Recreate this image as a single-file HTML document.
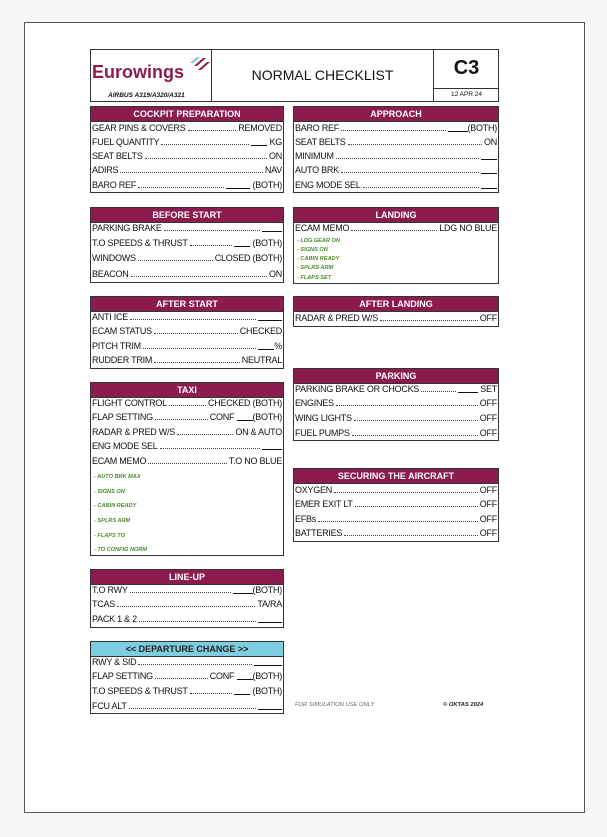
<!DOCTYPE html>
<html><head><meta charset="utf-8"><style>
html,body{margin:0;padding:0;}
body{width:607px;height:837px;background:#f7f7f7;position:relative;overflow:hidden;font-family:"Liberation Sans",sans-serif;color:#111;}
.page{position:absolute;left:24px;top:22px;width:561px;height:791px;background:#fff;border:1.5px solid #555;box-sizing:border-box;}
.a{position:absolute;}
.box{position:absolute;border:1px solid #333;box-sizing:border-box;background:#fff;}
.h{position:absolute;left:0;right:0;top:0;height:14px;background:#8c1c4e;color:#fff;font-weight:bold;font-size:9px;line-height:14px;text-align:center;border-bottom:1px solid #333;}
.h.b{background:#7fcde0;color:#222;}
.r{position:absolute;left:2px;right:2px;height:12px;line-height:12px;font-size:9px;display:flex;white-space:nowrap;letter-spacing:-0.25px;}
.r i{flex:1;border-bottom:1px dotted #444;margin:0 2px 3px 2px;}
.u{display:inline-block;border-bottom:1px solid #111;height:9px;vertical-align:top;}
.g{position:absolute;left:3px;font-size:5.6px;font-style:italic;font-weight:bold;color:#4a8a2a;}
</style></head><body>
<div class="page"></div>

<!-- header -->
<div class="box" style="left:90px;top:49px;width:409px;height:53px;"></div>
<div class="a" style="left:211px;top:49px;width:1px;height:53px;background:#333"></div>
<div class="a" style="left:433px;top:49px;width:1px;height:53px;background:#333"></div>
<div class="a" style="left:433px;top:88px;width:66px;height:1px;background:#333"></div>
<div class="a" style="left:92px;top:62px;font-size:18px;font-weight:bold;color:#8c1c4e;">Eurowings</div>
<svg class="a" style="left:184px;top:56px" width="26" height="16"><path d="M6 7 L13 1 L16 1 L9 7Z" fill="#7fc7cf"/><path d="M10 10 L19 2 L22 2 L13 10Z" fill="#8c1c4e"/><path d="M14 14 L23 6 L26 6 L17 14Z" fill="#8c1c4e"/></svg>
<div class="a" style="left:108px;top:92px;font-size:6.5px;font-weight:bold;font-style:italic;">AIRBUS A319/A320/A321</div>
<div class="a" style="left:212px;top:67px;width:221px;text-align:center;font-size:14px;">NORMAL CHECKLIST</div>
<div class="a" style="left:434px;top:57px;width:65px;text-align:center;font-size:20px;font-weight:bold;">C3</div>
<div class="a" style="left:434px;top:91px;width:65px;text-align:center;font-size:6.5px;">12 APR 24</div>

<!-- COCKPIT PREPARATION -->
<div class="box" style="left:90px;top:106px;width:194px;height:87px;"><div class="h">COCKPIT PREPARATION</div></div>
<div class="a" style="left:90px;top:0;width:194px;">
<div class="r" style="top:122px">GEAR PINS &amp; COVERS<i></i>REMOVED</div>
<div class="r" style="top:136px">FUEL QUANTITY<i></i><span class="u" style="width:16px"></span>&nbsp;KG</div>
<div class="r" style="top:150px">SEAT BELTS<i></i>ON</div>
<div class="r" style="top:164px">ADIRS<i></i>NAV</div>
<div class="r" style="top:179px">BARO REF<i></i><span class="u" style="width:24px"></span>&nbsp;(BOTH)</div>
</div>

<!-- APPROACH -->
<div class="box" style="left:293px;top:106px;width:206px;height:87px;"><div class="h">APPROACH</div></div>
<div class="a" style="left:293px;top:0;width:206px;">
<div class="r" style="top:122px">BARO REF<i></i><span class="u" style="width:20px"></span>(BOTH)</div>
<div class="r" style="top:136px">SEAT BELTS<i></i>ON</div>
<div class="r" style="top:150px">MINIMUM<i></i><span class="u" style="width:16px"></span></div>
<div class="r" style="top:164px">AUTO BRK<i></i><span class="u" style="width:16px"></span></div>
<div class="r" style="top:179px">ENG MODE SEL<i></i><span class="u" style="width:16px"></span></div>
</div>

<!-- BEFORE START -->
<div class="box" style="left:90px;top:207px;width:194px;height:76px;"><div class="h">BEFORE START</div></div>
<div class="a" style="left:90px;top:0;width:194px;">
<div class="r" style="top:222px">PARKING BRAKE<i></i><span class="u" style="width:20px"></span></div>
<div class="r" style="top:237px">T.O SPEEDS &amp; THRUST<i></i><span class="u" style="width:16px"></span>&nbsp;(BOTH)</div>
<div class="r" style="top:252px">WINDOWS<i></i>CLOSED (BOTH)</div>
<div class="r" style="top:268px">BEACON<i></i>ON</div>
</div>

<!-- LANDING -->
<div class="box" style="left:293px;top:207px;width:206px;height:77px;"><div class="h">LANDING</div>
<div class="g" style="top:30px">- LDG GEAR ON</div>
<div class="g" style="top:39px">- SIGNS ON</div>
<div class="g" style="top:48px">- CABIN READY</div>
<div class="g" style="top:57px">- SPLRS ARM</div>
<div class="g" style="top:67px">- FLAPS SET</div>
</div>
<div class="a" style="left:293px;top:0;width:206px;">
<div class="r" style="top:222px">ECAM MEMO<i></i>LDG NO BLUE</div>
</div>

<!-- AFTER START -->
<div class="box" style="left:90px;top:296px;width:194px;height:73px;"><div class="h">AFTER START</div></div>
<div class="a" style="left:90px;top:0;width:194px;">
<div class="r" style="top:311px">ANTI ICE<i></i><span class="u" style="width:24px"></span></div>
<div class="r" style="top:325px">ECAM STATUS<i></i>CHECKED</div>
<div class="r" style="top:340px">PITCH TRIM<i></i><span class="u" style="width:16px"></span>%</div>
<div class="r" style="top:354px">RUDDER TRIM<i></i>NEUTRAL</div>
</div>

<!-- AFTER LANDING -->
<div class="box" style="left:293px;top:296px;width:206px;height:31px;"><div class="h">AFTER LANDING</div></div>
<div class="a" style="left:293px;top:0;width:206px;">
<div class="r" style="top:312px">RADAR &amp; PRED W/S<i></i>OFF</div>
</div>

<!-- PARKING -->
<div class="box" style="left:293px;top:368px;width:206px;height:73px;"><div class="h">PARKING</div></div>
<div class="a" style="left:293px;top:0;width:206px;">
<div class="r" style="top:383px">PARKING BRAKE OR CHOCKS<i></i><span class="u" style="width:20px"></span>&nbsp;SET</div>
<div class="r" style="top:397px">ENGINES<i></i>OFF</div>
<div class="r" style="top:412px">WING LIGHTS<i></i>OFF</div>
<div class="r" style="top:427px">FUEL PUMPS<i></i>OFF</div>
</div>

<!-- TAXI -->
<div class="box" style="left:90px;top:382px;width:194px;height:174px;"><div class="h">TAXI</div>
<div class="g" style="top:91px">- AUTO BRK MAX</div>
<div class="g" style="top:106px">- SIGNS ON</div>
<div class="g" style="top:120px">- CABIN READY</div>
<div class="g" style="top:135px">- SPLRS ARM</div>
<div class="g" style="top:150px">- FLAPS TO</div>
<div class="g" style="top:164px">- TO CONFIG NORM</div>
</div>
<div class="a" style="left:90px;top:0;width:194px;">
<div class="r" style="top:397px">FLIGHT CONTROL<i></i>CHECKED (BOTH)</div>
<div class="r" style="top:411px">FLAP SETTING<i></i>CONF&nbsp;<span class="u" style="width:16px"></span>(BOTH)</div>
<div class="r" style="top:426px">RADAR &amp; PRED W/S<i></i>ON &amp; AUTO</div>
<div class="r" style="top:440px">ENG MODE SEL<i></i><span class="u" style="width:20px"></span></div>
<div class="r" style="top:455px">ECAM MEMO<i></i>T.O NO BLUE</div>
</div>

<!-- SECURING -->
<div class="box" style="left:293px;top:468px;width:206px;height:74px;"><div class="h">SECURING THE AIRCRAFT</div></div>
<div class="a" style="left:293px;top:0;width:206px;">
<div class="r" style="top:484px">OXYGEN<i></i>OFF</div>
<div class="r" style="top:498px">EMER EXIT LT<i></i>OFF</div>
<div class="r" style="top:513px">EFBs<i></i>OFF</div>
<div class="r" style="top:527px">BATTERIES<i></i>OFF</div>
</div>

<!-- LINE-UP -->
<div class="box" style="left:90px;top:569px;width:194px;height:59px;"><div class="h">LINE-UP</div></div>
<div class="a" style="left:90px;top:0;width:194px;">
<div class="r" style="top:584px">T.O RWY<i></i><span class="u" style="width:20px"></span>(BOTH)</div>
<div class="r" style="top:598px">TCAS<i></i>TA/RA</div>
<div class="r" style="top:613px">PACK 1 &amp; 2<i></i><span class="u" style="width:24px"></span></div>
</div>

<!-- DEPARTURE CHANGE -->
<div class="box" style="left:90px;top:641px;width:194px;height:73px;"><div class="h b">&lt;&lt; DEPARTURE CHANGE &gt;&gt;</div></div>
<div class="a" style="left:90px;top:0;width:194px;">
<div class="r" style="top:656px">RWY &amp; SID<i></i><span class="u" style="width:28px"></span></div>
<div class="r" style="top:670px">FLAP SETTING<i></i>CONF&nbsp;<span class="u" style="width:16px"></span>(BOTH)</div>
<div class="r" style="top:685px">T.O SPEEDS &amp; THRUST<i></i><span class="u" style="width:16px"></span>&nbsp;(BOTH)</div>
<div class="r" style="top:700px">FCU ALT<i></i><span class="u" style="width:24px"></span></div>
</div>

<div class="a" style="left:295px;top:702px;font-size:5.8px;font-style:italic;color:#666;">FOR SIMULATION USE ONLY</div>
<div class="a" style="left:443px;top:702px;font-size:5.8px;font-style:italic;font-weight:bold;color:#222;">© OKTAS 2024</div>
</body></html>
